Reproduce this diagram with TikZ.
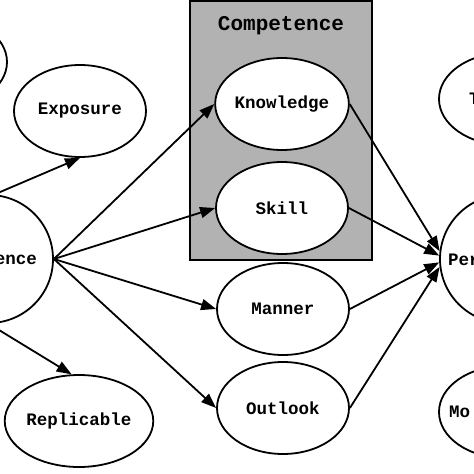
\documentclass[tikz,border=0pt]{standalone}
\usepackage{fontspec}
\setmonofont{Liberation Mono}
\usetikzlibrary{shapes.geometric,arrows.meta}
\begin{document}
\begin{tikzpicture}[x=1pt,y=-1pt,
  every node/.style={font=\ttfamily\bfseries\fontsize{17.5}{20}\selectfont},
  oval/.style={draw, ellipse, line width=1.8pt, fill=white, minimum width=132pt, minimum height=92pt, inner sep=0pt},
  bigoval/.style={draw, ellipse, line width=1.8pt, fill=white, minimum width=128pt, minimum height=128pt, inner sep=0pt},
  lbl/.style={inner sep=0pt},
  edge/.style={line width=1.8pt, -{Triangle[length=15pt,width=11pt]}}]
\clip (0,0) rectangle (474,474);
\fill[white] (0,0) rectangle (474,474);
% cluster box
\node (box) [draw, line width=2pt, fill=gray!60, minimum width=182pt, minimum height=259pt, inner sep=0pt] at (281,130.5) {};
\node (boxtitle) [font=\ttfamily\bfseries\fontsize{21}{24}\selectfont] at (281,26) {Competence};
% nodes
\node (tl) [oval] at (-59,62) {};
\node (expo) [oval] at (80,111) {Exposure};
\node (exp) [bigoval] at (-11,259) {};
\node (expt) [lbl, anchor=east] at (37,260) {ence};
\node (repl) [oval] at (79,421) {Replicable};
\node (know) [oval] at (282,104) {Knowledge};
\node (skill) [oval] at (282,208) {Skill};
\node (man) [oval] at (283,309) {Manner};
\node (out) [oval] at (283,408) {Outlook};
\node (t) [oval] at (505,99) {};
\node (tt) [lbl, anchor=west] at (469,99) {T};
\node (per) [bigoval] at (504,259) {};
\node (pert) [lbl, anchor=west] at (448,260) {Per};
\node (mo) [oval] at (505,412) {};
\node (mot) [lbl, anchor=west] at (449,412) {Mo};
% edges
\draw[edge] (exp.85) -- (expo.south);
\draw[edge] (exp.south) -- (repl.99);
\draw[edge] (exp.east) -- (know.west);
\draw[edge] (exp.east) -- (skill.west);
\draw[edge] (exp.east) -- (man.west);
\draw[edge] (exp.east) -- (out.west);
\draw[edge] (know.east) -- (per.173);
\draw[edge] (skill.east) -- (per.177);
\draw[edge] (man.east) -- (per.183);
\draw[edge] (out.east) -- (per.187);
\end{tikzpicture}
\end{document}
